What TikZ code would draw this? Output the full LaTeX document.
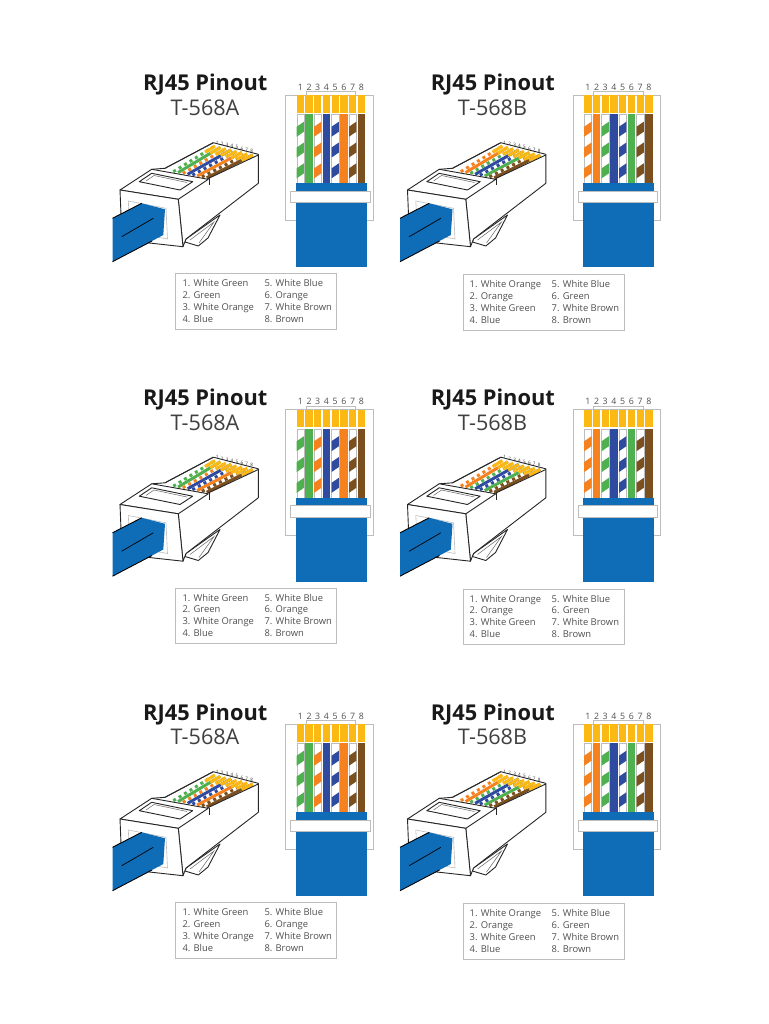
\documentclass[tikz,border=0pt]{standalone}
\usepackage{fontspec}
\setmainfont{Open Sans}
\usetikzlibrary{calc}
\definecolor{wgreen}{HTML}{4FB04F}
\definecolor{worange}{HTML}{F5821F}
\definecolor{wblue}{HTML}{2F4BA0}
\definecolor{wbrown}{HTML}{7B4F1E}
\definecolor{wyellow}{HTML}{FDB913}
\definecolor{jacket}{HTML}{0F6CB6}
\definecolor{edge}{HTML}{BDBDBD}
\definecolor{ink}{HTML}{505050}
\tikzset{
  titlebold/.style={font=\fontsize{21.8}{21.8}\selectfont\bfseries, text=black!90, anchor=base},
  titlelight/.style={font=\fontsize{21.6}{21.6}\selectfont, text=black!75, anchor=base},
  pinnum/.style={font=\fontsize{8.8}{8.8}\selectfont, text=ink, inner sep=0pt},
  legendtext/.style={font=\fontsize{9.4}{9.4}\selectfont, text=ink, inner sep=0pt, anchor=base west},
  plug/.style={draw=black!85, line width=0.9pt, line join=round, fill=white}
}
% wire lists: pin/colour/striped
\def\wiresA{1/wgreen/1,2/wgreen/0,3/worange/1,4/wblue/0,5/wblue/1,6/worange/0,7/wbrown/1,8/wbrown/0}
\def\wiresB{1/worange/1,2/worange/0,3/wgreen/1,4/wblue/0,5/wblue/1,6/wgreen/0,7/wbrown/1,8/wbrown/0}
% #1 shift x, #2 shift y, #3 standard, #4 wires, #5 legend x, #6 legend y offset
\newcommand{\pinoutpanel}[6]{
\begin{scope}[shift={(#1,#2)}]
  \node[titlebold] (title) at (205.3,91) {RJ45 Pinout};
  \node[titlelight] (standard) at (205,115.5) {T-568#3};
  % flat view
  \draw[edge, line width=0.6pt] (285.7,95) rectangle (373,220.7);
  \draw[edge, line width=0.6pt] (306,95) -- (306,91.7) -- (355.7,91.7) -- (355.7,95);
  \foreach \i/\c/\s in #4 {
    \pgfmathsetmacro{\xx}{296.7+(\i-1)*8.72}
    \node[pinnum] (num\i) at (\xx+3.6,87) {\i};
    \fill[wyellow] (\xx,95) rectangle ++(7.3,17.7);
    \ifnum\s=1
      \draw[edge, line width=0.4pt, fill=white] (\xx,114.3) rectangle ++(7.3,69);
      \foreach \b in {0,1,2}
        \fill[\c] (\xx,126.7+20.8*\b) -- ++(7.3,-5) -- ++(0,10) -- ++(-7.3,5) -- cycle;
    \else
      \fill[\c] (\xx,114.3) rectangle ++(7.3,69);
    \fi
  }
  \fill[jacket] (295.7,183.3) rectangle (366.7,267.3);
  \draw[edge, line width=0.6pt, fill=white] (290.7,191) rectangle (370,202.3);
  % tab
  \draw[plug] (186,239) -- (220,215) -- (208,238) -- (198.3,246) -- (185,242) -- cycle;
  \draw[black!60, line width=0.5pt] (190,240) -- (214,222) -- (199,243);
  % plug body
  \draw[plug] (165,168.3) -- (213.3,142.7) -- (258.3,154.3) -- (258.3,183.3) -- (186,239) -- (183,246.7)
    -- (178.3,199.3) -- (151.7,169.3) -- cycle;
  \foreach \i/\c/\s in #4 {
    \pgfmathsetmacro{\tt}{(\i-1)/7}
    \coordinate (f\i) at ({173.3+33.4*\tt},{171.7+6.1*\tt});
    \coordinate (k\i) at ({215+37.7*\tt},{146+9*\tt});
    \ifnum\s=1
      \draw[white, line width=3pt] (f\i) -- (k\i);
      \draw[\c, line width=3pt, dash pattern=on 3pt off 3.4pt] (f\i) -- (k\i);
    \else
      \draw[\c, line width=3pt] (f\i) -- (k\i);
    \fi
    \draw[wyellow, line width=3pt] ($(f\i)!0.76!(k\i)$) -- (k\i);
    \pgfmathsetmacro{\nx}{217.3+34.4*\tt}
    \pgfmathsetmacro{\ny}{142.7+8*\tt}
    \node[font=\fontsize{4.6}{4.6}\selectfont, text=black!80, inner sep=0pt] (tip\i) at (\nx,\ny) {\i};
  }
  \draw[plug] (165,168.3) -- (213.3,142.7);
  \draw[black!85, line width=0.9pt] (208.3,178.5) -- (258.3,155);
  \draw[black!85, line width=0.9pt] (209,178.5) -- (209,185.5);
  % top and front
  \draw[plug] (120,190) -- (151.7,169.3) -- (208.3,179.3) -- (178.3,199.3) -- cycle;
  \draw[plug] (139.3,181.7) -- (151.7,173.3) -- (192.7,181.7) -- (180,190) -- cycle;
  \draw[black!60, line width=0.5pt] (146,181) -- (154,175.5) -- (187,182.5);
  \draw[plug] (120,190) -- (178.3,199.3) -- (183,246.7) -- (122,240) -- cycle;
  \draw[edge, line width=0.6pt, fill=white] (128.3,201) -- (166,208.3) -- (167.5,239) -- (130,232) -- cycle;
  % cable
  \fill[jacket] (112.5,218.3) -- (141.7,203.3) -- (165,209.3) -- (163.3,235) -- (152,241) -- (112.5,261.7) -- cycle;
  \draw[black, line width=0.9pt] (112.5,218.3) -- (141.7,203.3);
  \draw[black, line width=0.9pt] (112.5,261.7) -- (152,241);
  \draw[black, line width=0.7pt] (121.7,236.7) -- (153.3,218.3);
  % legend
  \draw[edge, line width=0.7pt] (#5-6.5,273.5+#6) rectangle (#5+154.5,329+#6);
  \node[legendtext] (l1) at (#5,286.7+#6) {1. White \ifnum\pdfstrcmp{#3}{A}=0 Green\else Orange\fi};
  \node[legendtext] (l2) at (#5,298.4+#6) {2. \ifnum\pdfstrcmp{#3}{A}=0 Green\else Orange\fi};
  \node[legendtext] (l3) at (#5,310.1+#6) {3. White \ifnum\pdfstrcmp{#3}{A}=0 Orange\else Green\fi};
  \node[legendtext] (l4) at (#5,322.2+#6) {4. Blue};
  \node[legendtext] (l5) at (#5+82,286.7+#6) {5. White Blue};
  \node[legendtext] (l6) at (#5+82,298.4+#6) {6. \ifnum\pdfstrcmp{#3}{A}=0 Orange\else Green\fi};
  \node[legendtext] (l7) at (#5+82,310.1+#6) {7. White Brown};
  \node[legendtext] (l8) at (#5+82,322.2+#6) {8. Brown};
\end{scope}
}
\begin{document}
\begin{tikzpicture}[x=1pt,y=-1pt]
\useasboundingbox (0,0) rectangle (768,1024);
\fill[white] (0,0) rectangle (768,1024);
\foreach \dy in {0,314.5,629} {
  \pinoutpanel{0}{\dy}{A}{\wiresA}{182.3}{0}
  \pinoutpanel{287.5}{\dy}{B}{\wiresB}{182}{1}
}
\end{tikzpicture}
\end{document}
